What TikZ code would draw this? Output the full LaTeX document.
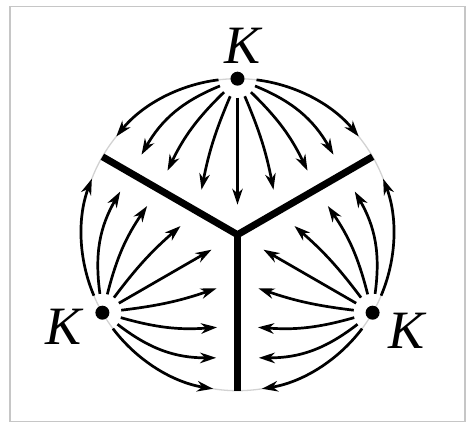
\documentclass[tikz,border=0pt]{standalone}
\usepackage{fontspec}
\usetikzlibrary{arrows.meta}
\newfontfamily\labelfont{Liberation Serif}

\begin{document}
\begin{tikzpicture}[
  x=1pt, y=1pt,
  frame/.style={draw=gray!45, line width=1.5pt},
  rim/.style={draw=gray!35, line width=1.3pt},
  wall/.style={line width=7pt},
  flow/.style={->, line width=2.7pt, >={Stealth[length=16pt, width=10.5pt, inset=5pt]}},
  dot/.style={circle, fill=black, inner sep=0pt, minimum size=14pt},
  lbl/.style={font=\labelfont\itshape\fontsize{54}{60}\selectfont, inner sep=0pt}
]
\useasboundingbox (-237.5,-193.3) rectangle (236.5,234.7);
\draw[frame] (-227.5,-187) rectangle (227.5,228);

% Boundary and walls
\coordinate (O) at (0,0);
\draw[rim] (O) circle (156);
\coordinate (wl) at (150:156);
\coordinate (wr) at (30:156);
\coordinate (wb) at (270:156);
\draw[wall] (wl) -- (O) -- (wr);
\draw[wall] (O) -- (wb);

% Field lines out of each K
\foreach \ang/\k in {0/Kt, 120/Kl, 240/Kr} {
  \begin{scope}[rotate=\ang]
    \node[dot] (\k) at (90:156) {};
    \draw[flow] (97:156) arc[start angle=97, end angle=141, radius=156];
    \draw[flow] (83:156) arc[start angle=83, end angle=39, radius=156];
    \draw[flow] (\k.center) ++(202.5:19) to[bend right=19] (-96,80);
    \draw[flow] (\k.center) ++(225:19) to[bend right=10] (-70,64);
    \draw[flow] (\k.center) ++(247.5:19) to[bend right=6] (-36,45);
    \draw[flow] (\k.center) ++(270:19) -- (0,30);
    \draw[flow] (\k.center) ++(292.5:19) to[bend left=6] (36,45);
    \draw[flow] (\k.center) ++(315:19) to[bend left=10] (70,64);
    \draw[flow] (\k.center) ++(337.5:19) to[bend left=19] (96,80);
  \end{scope}
}

% Labels
\node[lbl] (lt) at (5,189) {K};
\node[lbl] (ll) at (-174,-92) {K};
\node[lbl] (lr) at (169,-96) {K};

\end{tikzpicture}
\end{document}
